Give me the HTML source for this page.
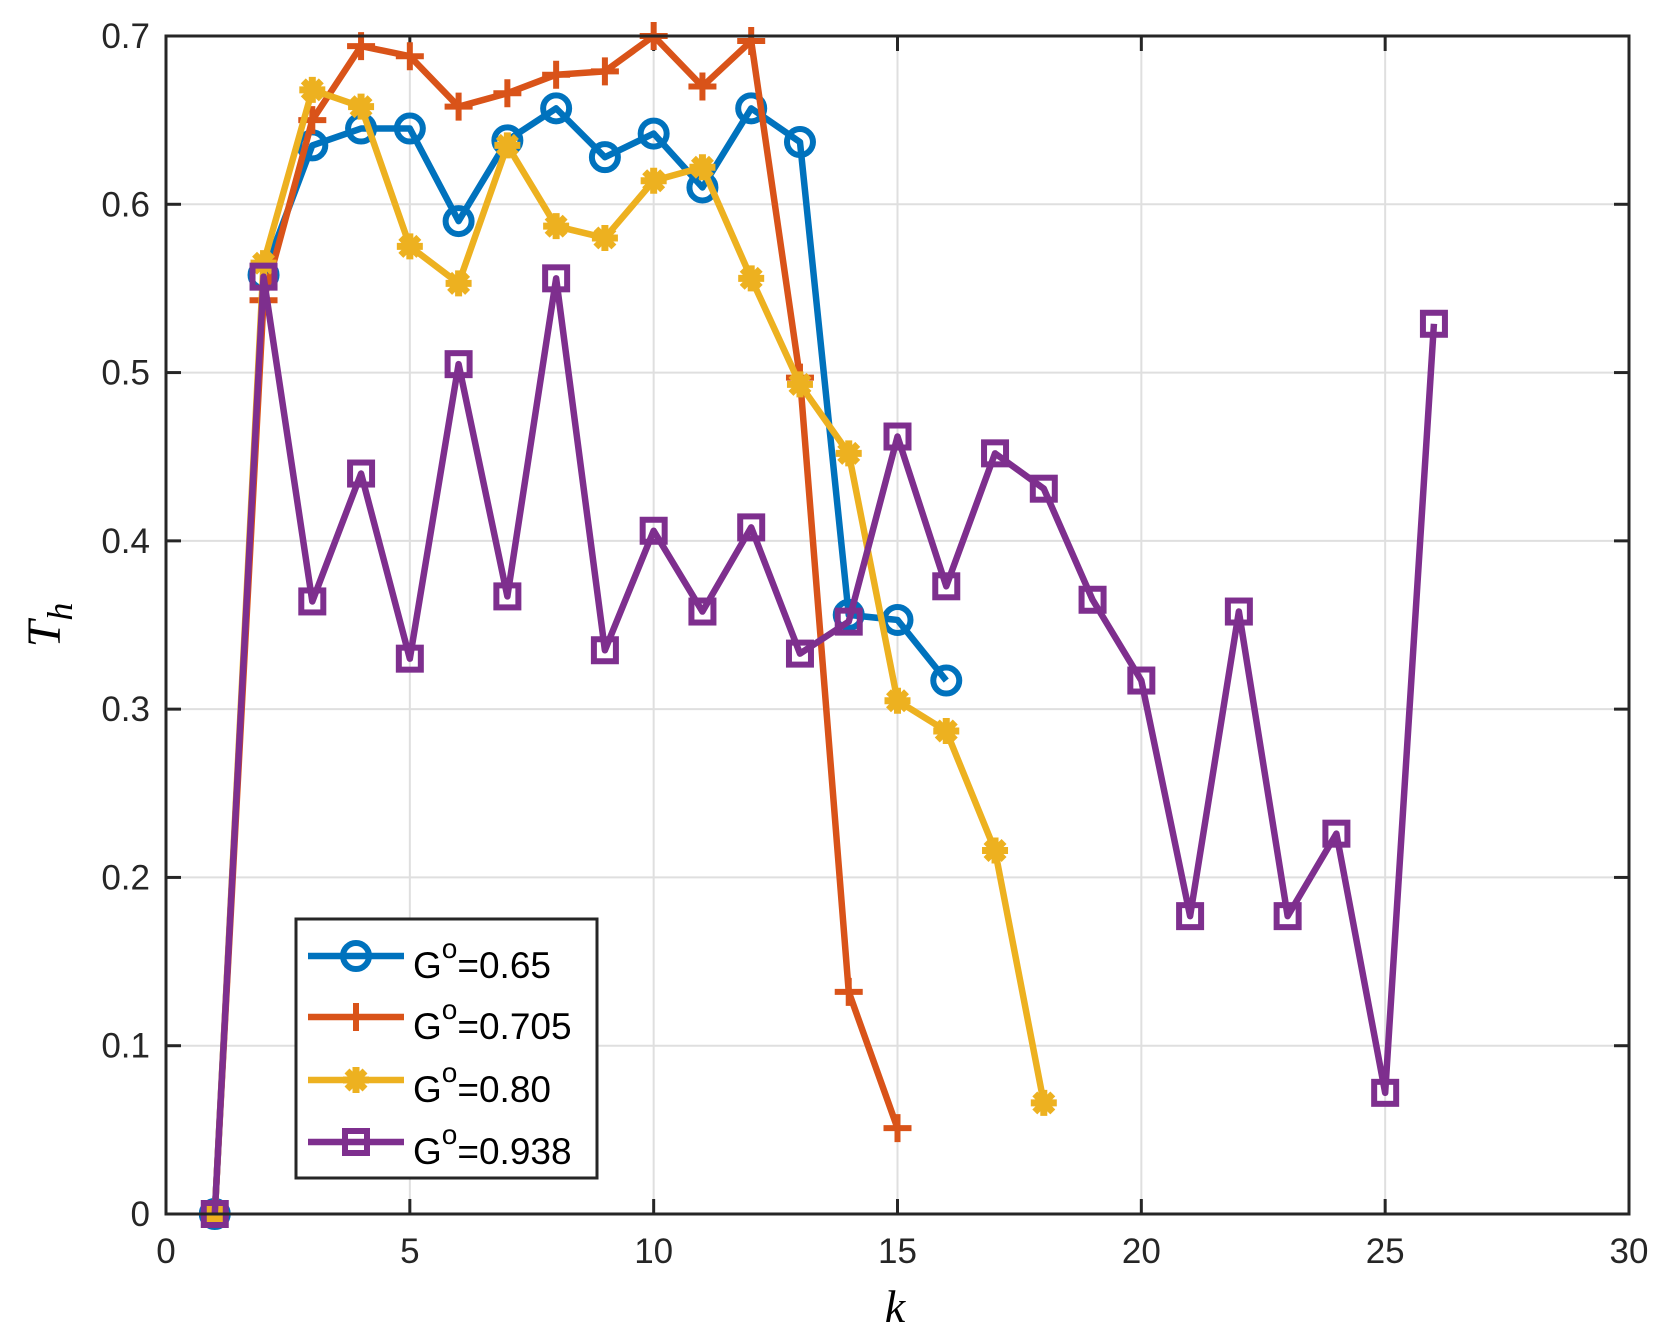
<!DOCTYPE html>
<html><head><meta charset="utf-8"><style>body{margin:0;background:#fff}svg{display:block}</style></head>
<body>
<svg id="s" width="1656" height="1343" xmlns="http://www.w3.org/2000/svg" font-family="Liberation Sans, sans-serif"></svg>
<script>
const L=166,R=1629,T=36,B=1214;
const X=k=>L+(R-L)*k/30, Y=v=>B-(B-T)*v/0.7;
let h='<rect width="1656" height="1343" fill="#fff"/>';
for(let k=5;k<30;k+=5)h+=`<line x1="${X(k)}" x2="${X(k)}" y1="${T}" y2="${B}" stroke="#dfdfdf" stroke-width="2"/>`;
for(let i=1;i<7;i++){const y=Y(i/10);h+=`<line x1="${L}" x2="${R}" y1="${y}" y2="${y}" stroke="#dfdfdf" stroke-width="2"/>`;}
for(let k=0;k<=30;k+=5){h+=`<line x1="${X(k)}" x2="${X(k)}" y1="${B}" y2="${B-15}" stroke="#262626" stroke-width="3"/><line x1="${X(k)}" x2="${X(k)}" y1="${T}" y2="${T+15}" stroke="#262626" stroke-width="3"/><text x="${X(k)}" y="1263" font-size="35" text-anchor="middle" fill="#262626">${k}</text>`;}
for(let i=0;i<=7;i++){const y=Y(i/10);h+=`<line x1="${L}" x2="${L+15}" y1="${y}" y2="${y}" stroke="#262626" stroke-width="3"/><line x1="${R}" x2="${R-15}" y1="${y}" y2="${y}" stroke="#262626" stroke-width="3"/><text x="150" y="${y+12}" font-size="35" text-anchor="end" fill="#262626">${i==0?'0':(i/10).toFixed(1)}</text>`;}
const S=[
["#0072bd","o",[0,.558,.635,.645,.645,.59,.638,.657,.628,.642,.61,.657,.637,.356,.353,.317]],
["#d95319","+",[0,.543,.65,.694,.688,.658,.666,.677,.679,.7,.67,.697,.497,.132,.051]],
["#edb120","*",[0,.565,.668,.658,.575,.553,.635,.587,.58,.614,.622,.556,.493,.452,.305,.287,.216,.066]],
["#7e2f8e","s",[0,.557,.364,.44,.33,.505,.367,.556,.335,.406,.358,.408,.333,.352,.462,.373,.452,.431,.365,.317,.177,.358,.177,.226,.072,.529]]];
function mk(t,x,y,c){
 if(t=="o")return `<circle cx="${x}" cy="${y}" r="13" fill="none" stroke="${c}" stroke-width="6"/>`;
 if(t=="+")return `<path d="M${x-14} ${y}h28M${x} ${y-14}v28" stroke="${c}" stroke-width="6"/>`;
 if(t=="*")return `<path d="M${x-13} ${y}h26M${x} ${y-13}v26M${x-9} ${y-9}l18 18M${x-9} ${y+9}l18 -18" stroke="${c}" stroke-width="7"/>`;
 return `<rect x="${x-11}" y="${y-11}" width="22" height="22" fill="none" stroke="${c}" stroke-width="6"/>`;
}
for(const [c,t,d] of S){
 h+=`<polyline fill="none" stroke="${c}" stroke-width="6.5" stroke-linejoin="round" points="${d.map((v,i)=>X(i+1)+','+Y(v)).join(' ')}"/>`;
 d.forEach((v,i)=>h+=mk(t,X(i+1),Y(v),c));
}
h+=`<rect x="${L}" y="${T}" width="${R-L}" height="${B-T}" fill="none" stroke="#262626" stroke-width="3"/>`;
h+=`<rect x="296" y="919" width="301" height="259" fill="#fff" stroke="#262626" stroke-width="3"/>`;
const lab=["0.65","0.705","0.80","0.938"],ly=[956,1017,1080,1142];
S.forEach(([c,t],i)=>{h+=`<line x1="308" x2="404" y1="${ly[i]}" y2="${ly[i]}" stroke="${c}" stroke-width="6.5"/>`+mk(t,356,ly[i],c)+`<text x="413" y="${ly[i]+22}" font-size="37" fill="#000">G<tspan dy="-20" font-size="28">o</tspan><tspan dy="20">=${lab[i]}</tspan></text>`;});
h+=`<text x="895" y="1322" font-size="46" font-style="italic" font-family="Liberation Serif, serif" text-anchor="middle">k</text>`;
h+=`<text transform="translate(60,625) rotate(-90)" font-size="48" font-style="italic" font-family="Liberation Serif, serif" text-anchor="middle">T<tspan dy="12" font-size="36">h</tspan></text>`;
document.getElementById('s').innerHTML=h;
</script>
</body></html>
